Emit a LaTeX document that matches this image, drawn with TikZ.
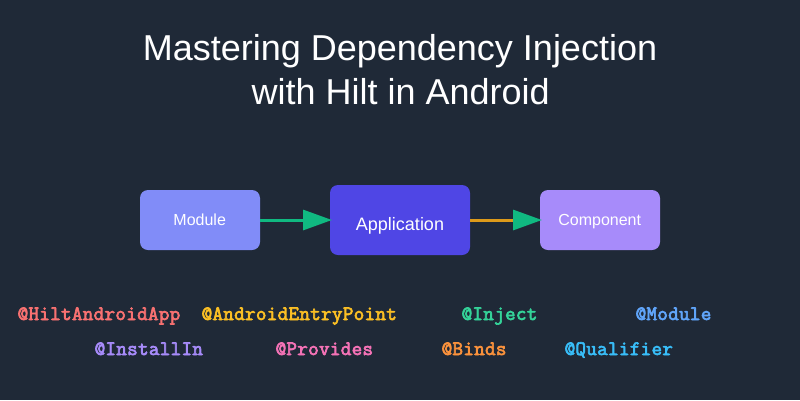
\documentclass[tikz,border=0pt]{standalone}
\usepackage{fontspec}
\setmainfont{Liberation Sans}
\newfontfamily\tagfont[FakeBold=3.2,LetterSpace=1.5]{Latin Modern Mono}
\usetikzlibrary{arrows.meta}
\definecolor{bg}{HTML}{1F2937}
\definecolor{modc}{HTML}{818CF8}
\definecolor{appc}{HTML}{4F46E5}
\definecolor{comc}{HTML}{A78BFA}
\definecolor{grn}{HTML}{10B981}
\definecolor{amb}{HTML}{DD9A1A}
\definecolor{a1}{HTML}{F87171}
\definecolor{a2}{HTML}{FBBF24}
\definecolor{a3}{HTML}{34D399}
\definecolor{a4}{HTML}{60A5FA}
\definecolor{a5}{HTML}{A78BFA}
\definecolor{a6}{HTML}{F472B6}
\definecolor{a7}{HTML}{FB923C}
\definecolor{a8}{HTML}{38BDF8}
\tikzset{
  x=1pt,y=-1pt,
  boxnode/.style={rounded corners=8pt,inner sep=0,outer sep=0,anchor=north west,minimum height=60pt,minimum width=120pt},
  boxlabel/.style={anchor=base,text=white,inner sep=0,font=\fontsize{16}{16}\selectfont},
  titleline/.style={anchor=base,text=white,inner sep=0,font=\fontsize{36}{36}\selectfont},
  tag/.style={anchor=base west,inner sep=0,font=\fontsize{20.5}{20.5}\tagfont},
  conn/.style={line width=3pt,shorten >=-2pt,-{Triangle[length=29pt,width=20pt,fill=grn,color=grn]}}
}
\begin{document}
\begin{tikzpicture}
\useasboundingbox (0,0) rectangle (800,400);
\fill[bg] (0,0) rectangle (800,400);
\node[titleline] (t1) at (400,60) {Mastering Dependency Injection};
\node[titleline] (t2) at (400.7,104) {with Hilt in Android};
\node[boxnode,fill=modc] (module) at (140,190) {};
\node[boxnode,fill=appc,minimum width=140pt,minimum height=70pt] (app) at (330,185) {};
\node[boxnode,fill=comc] (comp) at (540,190) {};
\node[boxlabel] (lm) at (199.7,225) {Module};
\node[boxlabel,font=\fontsize{18}{18}\selectfont] (la) at (400,230) {Application};
\node[boxlabel] (lc) at (599.7,225) {Component};
\draw[conn,draw=grn] (module.east) -- (app.west);
\draw[conn,draw=amb] (app.east |- comp.west) -- (comp.west);
\node[tag,text=a1] (h1) at (17.4,320) {@HiltAndroidApp};
\node[tag,text=a2] (h2) at (201.4,320) {@AndroidEntryPoint};
\node[tag,text=a3] (h3) at (461.4,320) {@Inject};
\node[tag,text=a4] (h4) at (635.4,320) {@Module};
\node[tag,text=a5] (h5) at (94.4,355) {@InstallIn};
\node[tag,text=a6] (h6) at (275.4,355) {@Provides};
\node[tag,text=a7] (h7) at (441.4,355) {@Binds};
\node[tag,text=a8] (h8) at (564.4,355) {@Qualifier};
\end{tikzpicture}
\end{document}
